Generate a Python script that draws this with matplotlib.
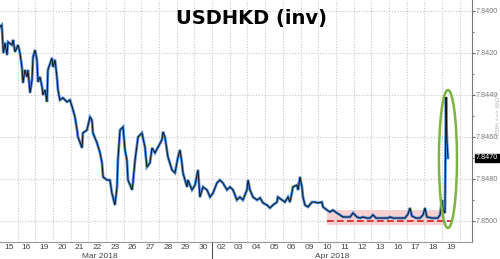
import numpy as np
import matplotlib
matplotlib.use("Agg")
import matplotlib.pyplot as plt
from matplotlib.patches import Ellipse, Rectangle
import matplotlib.transforms as mtransforms

plt.rcParams['font.family'] = ['Liberation Sans', 'DejaVu Sans']

# trading days shown on the axis (one slot per day)
day_labels = ['15', '16', '19', '20', '21', '22', '23', '26', '27', '28', '29', '30',
              '02', '03', '04', '05', '06', '09', '10', '11', '12', '13', '16', '17', '18', '19']
months = ['Mar 2018', 'Apr 2018']
month_pos = [5.66, 18.78]
month_break = 12  # first April trading day

# time in trading days since open of 15 Mar, and USDHKD level
t = [0.00, 0.10, 0.19, 0.28, 0.40, 0.45, 0.68, 0.74, 0.85, 1.02, 1.13, 1.24, 1.30, 1.41,
     1.53, 1.58, 1.70, 1.81, 1.87, 1.98, 2.09, 2.15, 2.26, 2.38, 2.43, 2.55, 2.66, 2.71,
     2.94, 3.00, 3.11, 3.22, 3.28, 3.39, 3.56, 3.79, 3.96, 4.13, 4.24, 4.36, 4.41, 4.64,
     4.69, 4.92, 5.09, 5.20, 5.26, 5.49, 5.66, 5.77, 5.83, 6.05, 6.22, 6.33, 6.50, 6.62,
     6.67, 6.79, 6.96, 7.07, 7.18, 7.24, 7.47, 7.52, 7.64, 7.81, 8.03, 8.20, 8.31, 8.48,
     8.60, 8.77, 8.94, 9.16, 9.22, 9.33, 9.50, 9.73, 9.90, 10.07, 10.18, 10.29, 10.35,
     10.58, 10.63, 10.86, 11.03, 11.20, 11.31, 11.48, 11.71, 11.88, 12.05, 12.27, 12.44,
     12.61, 12.84, 13.01, 13.18, 13.40, 13.57, 13.74, 13.97, 14.03, 14.14, 14.31, 14.54,
     14.71, 14.88, 15.10, 15.27, 15.44, 15.67, 15.72, 15.95, 16.12, 16.29, 16.40, 16.52,
     16.57, 16.80, 16.86, 16.97, 17.08, 17.14, 17.25, 17.42, 17.65, 17.82, 17.99, 18.21,
     18.27, 18.50, 18.67, 18.83, 19.06, 19.23, 19.40, 19.63, 19.80, 19.97, 20.08, 20.19,
     20.36, 20.53, 20.76, 20.93, 21.10, 21.27, 21.61, 21.95, 22.06, 22.23, 22.62, 22.91,
     23.08, 23.19, 23.30, 23.53, 23.76, 23.93, 24.04, 24.15, 24.43, 24.77, 24.89, 25.00,
     25.06, 25.17, 25.23, 25.25, 25.28, 25.31, 25.34]
usdhkd = [7.84076, 7.84067, 7.84200, 7.84152, 7.84210, 7.84148, 7.84162, 7.84138, 7.84195,
          7.84162, 7.84200, 7.84267, 7.84343, 7.84281, 7.84314, 7.84281, 7.84390, 7.84329,
          7.84219, 7.84186, 7.84233, 7.84338, 7.84314, 7.84362, 7.84400, 7.84376, 7.84433,
          7.84281, 7.84224, 7.84267, 7.84233, 7.84314, 7.84376, 7.84424, 7.84414, 7.84433,
          7.84424, 7.84471, 7.84505, 7.84567, 7.84600, 7.84652, 7.84581, 7.84567, 7.84505,
          7.84519, 7.84581, 7.84629, 7.84676, 7.84724, 7.84790, 7.84805, 7.84805, 7.84867,
          7.84924, 7.84838, 7.84710, 7.84567, 7.84552, 7.84662, 7.84710, 7.84805, 7.84852,
          7.84819, 7.84710, 7.84600, 7.84581, 7.84648, 7.84743, 7.84724, 7.84652, 7.84676,
          7.84648, 7.84614, 7.84576, 7.84600, 7.84695, 7.84757, 7.84771, 7.84695, 7.84662,
          7.84724, 7.84771, 7.84838, 7.84805, 7.84852, 7.84829, 7.84757, 7.84886, 7.84838,
          7.84852, 7.84886, 7.84867, 7.84819, 7.84805, 7.84819, 7.84852, 7.84838, 7.84852,
          7.84900, 7.84886, 7.84900, 7.84852, 7.84805, 7.84852, 7.84886, 7.84900, 7.84890,
          7.84914, 7.84924, 7.84938, 7.84924, 7.84910, 7.84886, 7.84900, 7.84910, 7.84886,
          7.84910, 7.84862, 7.84838, 7.84829, 7.84852, 7.84790, 7.84838, 7.84886, 7.84924,
          7.84933, 7.84910, 7.84910, 7.84914, 7.84910, 7.84933, 7.84948, 7.84957, 7.84948,
          7.84962, 7.84971, 7.84981, 7.84981, 7.84981, 7.84962, 7.84971, 7.84981, 7.84986,
          7.84981, 7.84986, 7.84986, 7.84971, 7.84986, 7.84986, 7.84986, 7.84981, 7.84986,
          7.84986, 7.84986, 7.84967, 7.84938, 7.84976, 7.84986, 7.84986, 7.84971, 7.84938,
          7.84981, 7.84986, 7.84986, 7.84971, 7.84900, 7.84948, 7.84962, 7.84410, 7.84519,
          7.84614, 7.84662, 7.84700]
last_price = 7.8470
peg = 7.8500
yticks = [7.8400, 7.8420, 7.8440, 7.8460, 7.8480, 7.8500]

fig = plt.figure(figsize=(5.0, 2.59), dpi=100)
ax = fig.add_axes([0.0, 17 / 259, 472 / 500, 242 / 259])

ax.plot(t, usdhkd, color='#4a8ee6', lw=2.0, solid_joinstyle='miter')
ax.plot(t, usdhkd, color='#151515', lw=0.7)

# weak-side band and peg line
ax.add_patch(Rectangle((18.5, 7.84948), 6.67, 0.00071, facecolor='#f6c4c4',
                       edgecolor='none', alpha=0.75, zorder=0))
ax.plot([18.5, 25.57], [peg, peg], color='#d81e1e', lw=1.2, ls=(0, (4, 2)))

# circle round the spike
ax.add_patch(Ellipse((25.34, 7.84705), 1.02, 0.00657, fill=False,
                     edgecolor='#7cb342', lw=1.8, zorder=5))

ax.set_xlim(0, 26.7)
ax.set_ylim(7.8510, 7.83948)

ax.set_xticks(np.arange(len(day_labels)) + 0.5)
ax.set_xticklabels(day_labels)
ax.set_xticks(np.arange(1, len(day_labels) + 1), minor=True)
ax.tick_params(axis='x', which='both', length=0, labelsize=6,
               labelcolor='#444444', pad=1.5)
ax.grid(True, axis='x', which='minor', color='#c8c8c8', ls=(0, (1, 1.5)), lw=0.8)

ax.yaxis.tick_right()
ax.set_yticks(yticks)
ax.set_yticklabels(['%.4f' % v for v in yticks])
ax.set_yticks(np.arange(7.8410, 7.8510, 0.002), minor=True)
ax.tick_params(axis='y', which='major', length=2.5, labelsize=5.2,
               labelcolor='#777777', color='#666666', pad=0.5)
ax.tick_params(axis='y', which='minor', length=1.5, color='#666666')
ax.grid(True, axis='y', which='major', color='#c8c8c8', ls=(0, (1, 1.5)), lw=0.8)

for s in ['left', 'top']:
    ax.spines[s].set_visible(False)
ax.spines['right'].set_color('#777777')
ax.spines['bottom'].set_color('#999999')

trans = mtransforms.blended_transform_factory(ax.transData, ax.transAxes)
for m, p in zip(months, month_pos):
    ax.text(p, -0.058, m, transform=trans, ha='center', va='center',
            fontsize=6, color='#444444')
ax.plot([month_break, month_break], [0, -0.08], transform=trans,
        color='#555555', lw=0.8, clip_on=False)

# last price tag
ax.annotate('%.4f' % last_price, xy=(1.0, last_price),
            xycoords=('axes fraction', 'data'), xytext=(2.5, 0),
            textcoords='offset points', ha='left', va='center', fontsize=5.2,
            color='white', annotation_clip=False,
            bbox=dict(boxstyle='square,pad=0.12', fc='black', ec='black'))

fig.text(0.99, 1 - 116 / 259, 'LOW <=> HIGH', rotation=270, ha='center',
         va='center', fontsize=4.6, color='#b0b0b0')

fig.text(252 / 500, 1 - 18.5 / 259, 'USDHKD (inv)', ha='center', va='center',
         fontsize=14, fontweight='bold', color='black', family='DejaVu Sans')

fig.savefig('out.png', dpi=100)
